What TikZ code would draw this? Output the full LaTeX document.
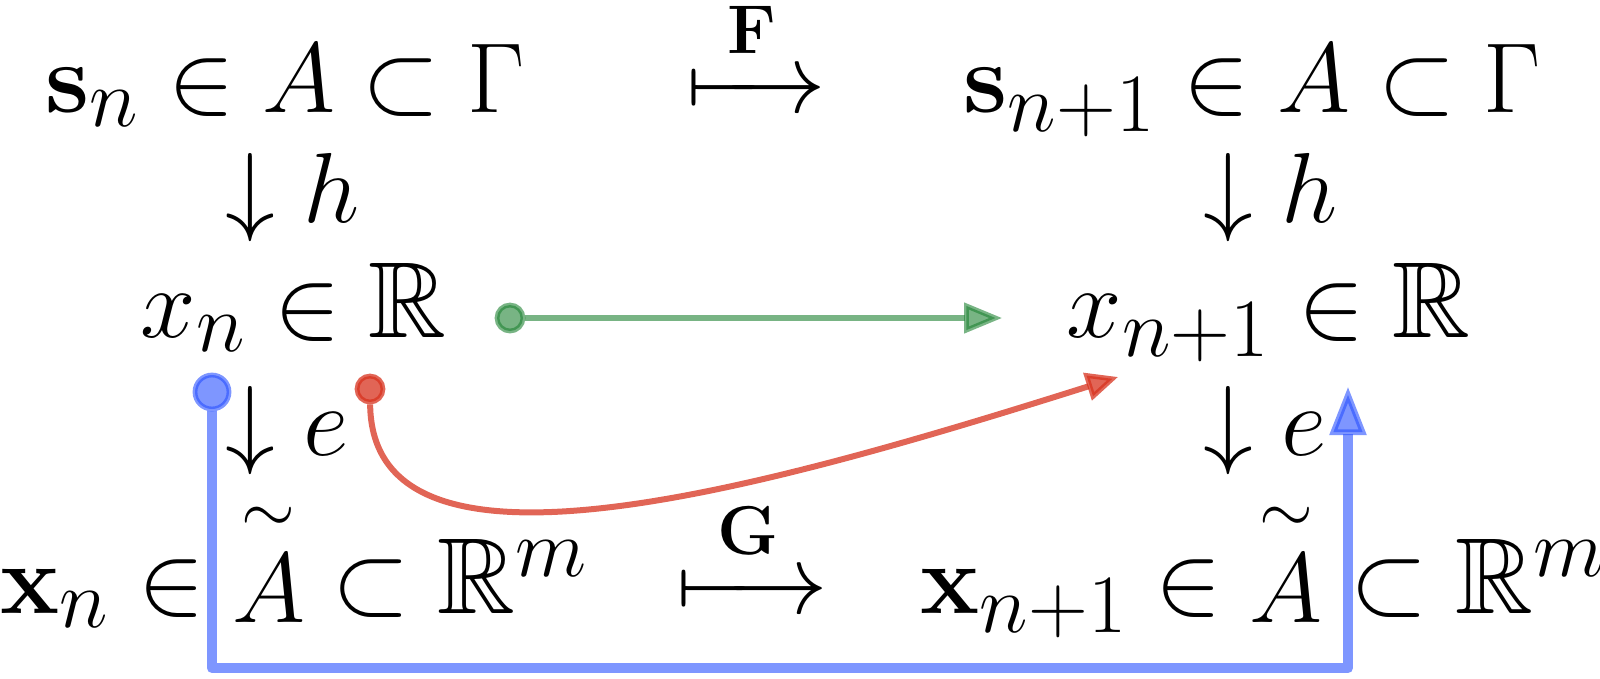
\documentclass[tikz,border=0pt]{standalone}
\usepackage{amsmath,amssymb,mathtools}
\usetikzlibrary{arrows.meta}
\DeclareMathSizes{27}{27}{22.4}{18.9}
\definecolor{mgreen}{RGB}{30,130,50}
\definecolor{mred}{RGB}{215,50,30}
\definecolor{mblue}{RGB}{40,80,255}
\newcommand{\tildeA}{\mathord{\stackrel{\scriptscriptstyle\sim}{A}}}
\newcommand{\labmap}[1]{\xmapsto{\mkern3mu\scriptscriptstyle#1\mkern3mu}}
\tikzset{
  mtext/.style={inner sep=0pt, anchor=base west, font=\fontsize{27}{32}\selectfont},
  dot/.style={circle, inner sep=0pt, minimum size=#1, line width=1.2pt},
  gline/.style={draw=mgreen, draw opacity=0.6, fill opacity=0.6, line width=1.6pt},
  rline/.style={draw=mred, draw opacity=0.75, fill opacity=0.75, line width=1.5pt},
  bline/.style={draw=mblue, draw opacity=0.6, fill opacity=0.6, line width=2.6pt}
}
\begin{document}
\begin{tikzpicture}[x=0.25pt,y=-0.25pt]
\useasboundingbox (0,0) rectangle (1600,678);
% row 1
\node[mtext] (s1) at (45,112) {$\mathbf{s}_n \in A \subset \Gamma$};
\node[mtext] (F) at (686,112) {$\labmap{\mathbf{F}}$};
\node[mtext] (s2) at (963,112) {$\mathbf{s}_{n+1} \in A \subset \Gamma$};
% row 2
\node[mtext] (h1) at (225,222) {$\downarrow h$};
\node[mtext] (h2) at (1203,222) {$\downarrow h$};
% row 3
\node[mtext] (x1) at (140,337) {$x_n \in \mathbb{R}$};
\node[mtext] (x2) at (1066,337) {$x_{n+1} \in \mathbb{R}$};
% row 4
\node[mtext] (e1) at (225,455) {$\downarrow e$};
\node[mtext] (e2) at (1203,455) {$\downarrow e$};
% row 5
\node[mtext] (X1) at (0,613) {$\mathbf{x}_n \in \tildeA \subset \mathbb{R}^m$};
\node[mtext] (G) at (676,613) {$\labmap{\mathbf{G}}$};
\node[mtext] (X2) at (920,613) {$\mathbf{x}_{n+1} \in \tildeA \subset \mathbb{R}^m$};
% dots
\node[dot=6.5pt, draw=mgreen, fill=mgreen, draw opacity=0.6, fill opacity=0.6] (gd) at (510,318) {};
\node[dot=6.5pt, draw=mred, fill=mred, draw opacity=0.75, fill opacity=0.75] (rd) at (370,389) {};
\node[dot=8.5pt, draw=mblue, fill=mblue, draw opacity=0.6, fill opacity=0.6] (bd) at (212,392) {};
% tips
\coordinate (gt) at (1002,318);
\coordinate (rt) at (1118,377);
\coordinate (bt) at (1348,387);
\coordinate (bc) at (212,668);
% connectors
\draw[gline, -{Triangle[length=9.5pt,width=7.5pt,fill=mgreen,line width=1.2pt]}] (gd) -- (gt);
\draw[rline, -{Triangle[length=8pt,width=7pt,fill=mred,line width=1.2pt]}] (rd) .. controls (372,600) and (760,490) .. (rt);
\draw[bline, line join=round, -{Triangle[length=12pt,width=9pt,fill=mblue,line width=1.4pt]}] (bd) -- (bc) -| (bt);
\end{tikzpicture}
\end{document}
